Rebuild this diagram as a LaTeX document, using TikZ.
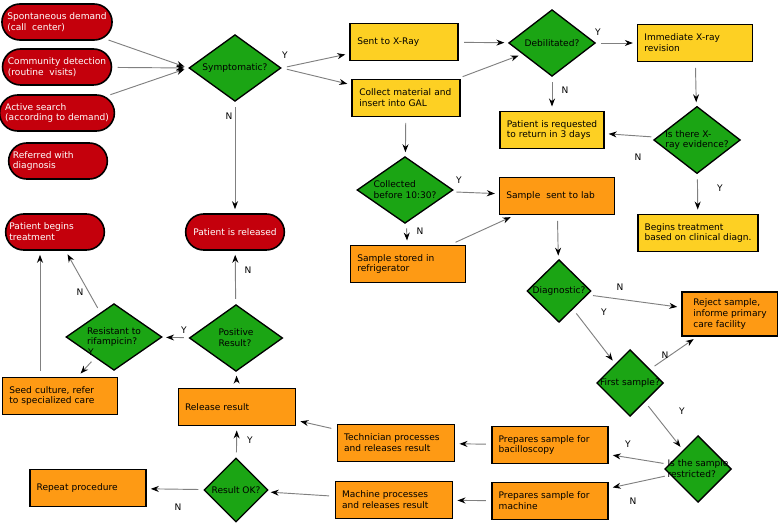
\documentclass[tikz,border=0pt]{standalone}
\usepackage{fontspec}
\setmainfont{DejaVu Sans}
\usetikzlibrary{shapes.geometric,shapes.misc,arrows.meta}
\definecolor{cred}{HTML}{C4000C}
\definecolor{cyel}{HTML}{FDD023}
\definecolor{corg}{HTML}{FE9A14}
\definecolor{cgrn}{HTML}{1BA514}
\definecolor{cline}{HTML}{808080}
\begin{document}
\begin{tikzpicture}[x=0.75pt,y=-0.75pt,
  every node/.style={font=\fontsize{6.8}{8.2}\selectfont},
  term/.style={rounded rectangle,fill=cred,draw=black,line width=1.2pt,text=white,minimum width=78pt,minimum height=27pt,align=left,inner sep=2pt},
  ybox/.style={rectangle,fill=cyel,draw=black,line width=1.2pt,minimum height=28pt,align=left,inner sep=5pt},
  obox/.style={rectangle,fill=corg,draw=black,line width=1.2pt,minimum height=28pt,align=left,inner sep=5pt},
  dec/.style={diamond,fill=cgrn,draw=black,line width=1pt,inner sep=-3pt,align=left},
  arr/.style={draw=cline,line width=0.7pt,-{Stealth[length=6pt,width=4.5pt,color=black]},shorten >=3pt,shorten <=4pt},
  lab/.style={font=\fontsize{6.8}{8}\selectfont}]
\useasboundingbox (0,0) rectangle (778,523);
% terminals
\node[term] (spont) at (57,22) {Spontaneous demand\\(call\ \ center)};
\node[term] (comm) at (57,67) {Community detection\\(routine\ \ visits)};
\node[term] (act) at (57,113) {Active search\\(according to demand)};
\node[term] (ref) at (58,161) {Referred with\hspace{22pt}\null\\diagnosis};
\node[term] (beg) at (55,232) {Patient begins\hspace{20pt}\null\\treatment};
\node[term] (rel) at (235,232) {Patient is released};
% decisions
\node[dec,minimum width=69pt,minimum height=50pt] (sym) at (235,68) {Symptomatic?};
\node[dec,minimum width=65pt,minimum height=50pt] (deb) at (552,43) {Debilitated?};
\node[dec,minimum width=65pt,minimum height=50pt] (xev) at (697,140) {Is there X-\\ray evidence?};
\node[dec,minimum width=72pt,minimum height=50pt] (col) at (405,190) {Collected\\before 10:30?};
\node[dec,minimum width=48pt,minimum height=47pt] (dia) at (559,291) {Diagnostic?};
\node[dec,minimum width=50pt,minimum height=50pt] (fir) at (630,383) {First sample?};
\node[dec,minimum width=50pt,minimum height=50pt] (res) at (698,469) {Is the sample\\restricted?};
\node[dec,minimum width=48pt,minimum height=48pt] (rok) at (236,490) {Result OK?};
\node[dec,minimum width=72pt,minimum height=50pt] (rif) at (114,337) {Resistant to\\rifampicin?};
\node[dec,minimum width=70pt,minimum height=50pt] (pos) at (236,338) {Positive\\Result?};
% boxes
\node[ybox,minimum width=81pt,text width=70pt] (xray) at (404,42) {Sent to X-Ray};
\node[ybox,minimum width=81pt,text width=70pt] (colm) at (406,98) {Collect material and\\insert into GAL};
\node[ybox,minimum width=86pt,text width=76pt] (imm) at (695,43) {Immediate X-ray\\revision};
\node[ybox,minimum width=72pt] (req) at (552,130) {Patient is requested\\to return in 3 days};
\node[ybox,minimum width=85pt] (btc) at (698,233) {Begins treatment\\based on clinical diagn.};
\node[obox,minimum width=86pt,text width=76pt] (lab) at (557,196) {Sample\ \ sent to lab};
\node[obox,minimum width=86pt,text width=76pt] (sto) at (408,264) {Sample stored in\\refrigerator};
\node[obox,minimum width=72pt] (rej) at (730,314) {Reject sample,\\informe primary\\care facility};
\node[obox,minimum width=87pt,text width=77pt] (bac) at (550,445) {Prepares sample for\\bacilloscopy};
\node[obox,minimum width=87pt,text width=77pt] (mpr) at (550,501) {Prepares sample for\\machine};
\node[obox,minimum width=88pt,text width=78pt] (tec) at (396,443) {Technician processes\\and releases result};
\node[obox,minimum width=88pt,text width=78pt] (mac) at (394,500) {Machine processes\\and releases result};
\node[obox,minimum width=88pt,text width=78pt] (rr) at (237,407) {Release result};
\node[obox,minimum width=87pt,text width=77pt] (rep) at (88,488) {Repeat procedure};
\node[obox,minimum width=86pt,text width=76pt] (seed) at (60,396) {Seed culture, refer\\to specialized care};
% edges
\draw[arr] (spont) -- (sym.west);
\draw[arr] (comm) -- (sym.west);
\draw[arr] (act) -- (sym.west);
\draw[arr] (sym.east) -- (xray);
\draw[arr] (sym.east) -- (colm);
\draw[arr] (sym) -- (rel);
\draw[arr] (xray) -- (deb);
\draw[arr] (colm) -- (deb);
\draw[arr] (deb) -- (imm);
\draw[arr] (deb) -- (req);
\draw[arr] (imm) -- (xev);
\draw[arr] (xev) -- (req);
\draw[arr] (xev) -- (btc);
\draw[arr] (colm) -- (col);
\draw[arr] (col) -- (lab);
\draw[arr] (col) -- (sto);
\draw[arr] (sto) -- (lab);
\draw[arr] (lab) -- (dia);
\draw[arr] (dia) -- (rej);
\draw[arr] (dia) -- (fir);
\draw[arr] (fir) -- (rej);
\draw[arr] (fir) -- (res);
\draw[arr] (res) -- (bac);
\draw[arr] (res) -- (mpr);
\draw[arr] (bac) -- (tec);
\draw[arr] (mpr) -- (mac);
\draw[arr] (tec) -- (rr);
\draw[arr] (mac) -- (rok);
\draw[arr] (rok) -- (rr);
\draw[arr] (rok) -- (rep);
\draw[arr] (rr) -- (pos);
\draw[arr] (pos) -- (rel);
\draw[arr] (pos) -- (rif);
\draw[arr] (rif) -- (beg);
\draw[arr] (rif) -- (seed);
\draw[arr] (seed.north -| 40,0) -- (beg.south -| 40,0);
% labels
\node[lab] (l1) at (285,55) {Y};
\node[lab] (l2) at (229,116) {N};
\node[lab] (l3) at (598,32) {Y};
\node[lab] (l4) at (565,90) {N};
\node[lab] (l5) at (638,157) {N};
\node[lab] (l6) at (720,188) {Y};
\node[lab] (l7) at (459,180) {Y};
\node[lab] (l8) at (420,231) {N};
\node[lab] (l9) at (620,287) {N};
\node[lab] (l10) at (604,312) {Y};
\node[lab] (l11) at (665,355) {N};
\node[lab] (l12) at (682,411) {Y};
\node[lab] (l13) at (628,444) {Y};
\node[lab] (l14) at (633,501) {N};
\node[lab] (l15) at (250,440) {Y};
\node[lab] (l16) at (178,507) {N};
\node[lab] (l17) at (248,270) {N};
\node[lab] (l18) at (184,330) {Y};
\node[lab] (l19) at (80,292) {N};
\node[lab] (l20) at (91,352) {Y};
\end{tikzpicture}
\end{document}
